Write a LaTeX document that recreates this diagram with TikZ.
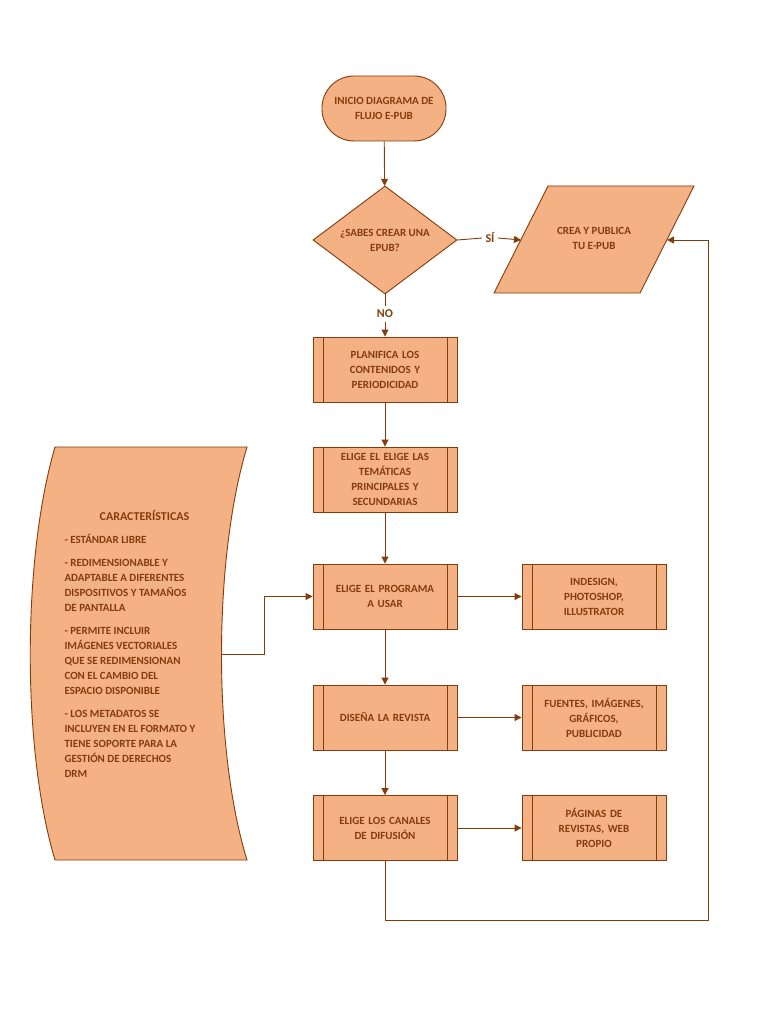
\documentclass[tikz,border=0pt]{standalone}
\usepackage{fontspec}
\setmainfont{Carlito}
\usetikzlibrary{shapes.geometric,arrows.meta}
\definecolor{fillc}{HTML}{F4B183}
\definecolor{linec}{HTML}{843C0C}
\begin{document}
\begin{tikzpicture}[x=1pt,y=-1pt,
  base/.style={draw=linec,fill=fillc,line width=0.9pt,text=linec,font=\fontsize{11}{15}\selectfont\bfseries,align=center},
  proc/.style={base,rectangle,minimum width=144pt,minimum height=65pt,text width=120pt,
    path picture={\draw[linec,line width=0.9pt]
      ([xshift=10pt]path picture bounding box.north west)--([xshift=10pt]path picture bounding box.south west)
      ([xshift=-10pt]path picture bounding box.north east)--([xshift=-10pt]path picture bounding box.south east);}},
  arr/.style={draw=linec,line width=0.9pt,-{Triangle[length=7pt,width=7pt]}},
  lab/.style={text=linec,font=\fontsize{12}{14}\selectfont\bfseries}]
\useasboundingbox (0,0) rectangle (768,1024);
\node[base,rounded corners=32pt,minimum width=124pt,minimum height=65pt] (start) at (384,108.5) {INICIO DIAGRAMA DE\\FLUJO E-PUB};
\node[base,diamond,minimum width=144pt,minimum height=108pt,aspect=1.33,inner sep=0pt] (dec) at (385,240) {¿SABES CREAR UNA\\EPUB?};
\draw[base] (548,186) -- (694,186) -- (640,293) -- (494,293) -- cycle;
\node[text=linec,font=\fontsize{11}{15}\selectfont\bfseries,align=center] (crea) at (594,238) {CREA Y PUBLICA\\TU E-PUB};
\coordinate (creaR) at (667,240);
\coordinate (creaL) at (521,240);
\node[proc] (plan) at (385,369.5) {PLANIFICA LOS\\CONTENIDOS Y\\PERIODICIDAD};
\node[proc] (tema) at (385,479.5) {ELIGE EL ELIGE LAS\\TEMÁTICAS\\PRINCIPALES Y\\SECUNDARIAS};
\node[proc] (prog) at (385,596.5) {ELIGE EL PROGRAMA\\A USAR};
\node[proc] (ind) at (594,596.5) {INDESIGN,\\PHOTOSHOP,\\ILLUSTRATOR};
\node[proc] (dis) at (385,717.5) {DISEÑA LA REVISTA};
\node[proc] (fue) at (594,717.5) {FUENTES, IMÁGENES,\\GRÁFICOS,\\PUBLICIDAD};
\node[proc] (can) at (385,828) {ELIGE LOS CANALES\\DE DIFUSIÓN};
\node[proc] (pag) at (594,828) {PÁGINAS DE\\REVISTAS, WEB\\PROPIO};
% tape
\draw[base] (55,447) -- (247,447) .. controls (213,560) and (213,750) .. (247,860) -- (55,860) .. controls (22,750) and (22,560) .. (55,447) -- cycle;
\coordinate (tapeR) at (222,654);
\node[text=linec,font=\fontsize{11}{15}\selectfont\bfseries,align=left,anchor=north west] (tape) at (61,507) {\makebox[160pt]{\fontsize{12}{15}\selectfont CARACTERÍSTICAS}\\[8pt]
- ESTÁNDAR LIBRE\\[8pt]
- REDIMENSIONABLE Y\\ADAPTABLE A DIFERENTES\\DISPOSITIVOS Y TAMAÑOS\\DE PANTALLA\\[8pt]
- PERMITE INCLUIR\\IMÁGENES VECTORIALES\\QUE SE REDIMENSIONAN\\CON EL CAMBIO DEL\\ESPACIO DISPONIBLE\\[8pt]
- LOS METADATOS SE\\INCLUYEN EN EL FORMATO Y\\TIENE SOPORTE PARA LA\\GESTIÓN DE DERECHOS\\DRM};
% connectors
\draw[arr] (start) -- (dec);
\node[lab] (no) at (385,314) {NO};
\node[lab] (si) at (490,238) {SÍ};
\draw[draw=linec,line width=0.9pt] (dec.east) -- (si.west);
\draw[arr] (si.east) -- (creaL);
\draw[draw=linec,line width=0.9pt] (dec.south) -- (no.north);
\draw[arr] (no.south) -- (plan.north);
\draw[arr] (plan) -- (tema);
\draw[arr] (tema) -- (prog);
\draw[arr] (prog) -- (dis);
\draw[arr] (dis) -- (can);
\draw[arr] (prog) -- (ind);
\draw[arr] (dis) -- (fue);
\draw[arr] (can) -- (pag);
\draw[arr] (tapeR) -- (264,654) -- (264,596.5) -- (prog.west);
\draw[arr] (can.south) -- (385,920) -- (708,920) -- (708,240) -- (creaR);
\end{tikzpicture}
\end{document}
